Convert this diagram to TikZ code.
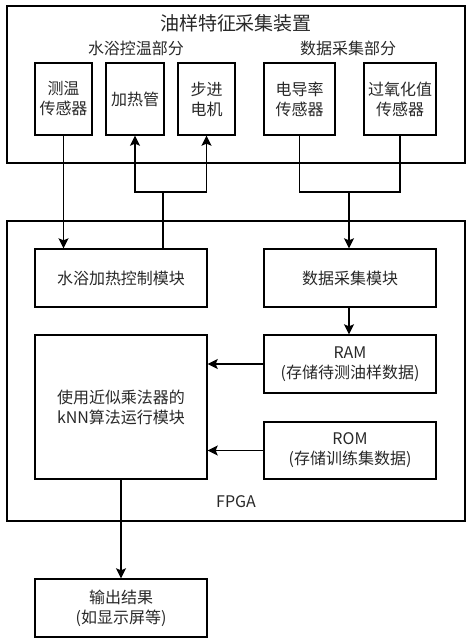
\documentclass[tikz,border=0pt]{standalone}
\usepackage{fontspec}
\setmainfont{Noto Sans CJK SC}
\usetikzlibrary{arrows.meta, positioning}
\definecolor{inkgray}{RGB}{40, 40, 40}

\tikzset{
  blk/.style={draw, line width=1.4pt, minimum width=172pt, minimum height=58pt,
    align=center, inner sep=2pt, font=\fontsize{16}{20}\selectfont, text=inkgray},
  sens/.style={blk, minimum width=57pt, minimum height=72pt},
  frame/.style={draw, line width=1.4pt},
  lbl/.style={font=\fontsize{16}{20}\selectfont, text=inkgray},
  flow/.style={line width=1.4pt, -{Stealth[length=10pt, width=10pt, inset=2pt]}},
  wire/.style={line width=1.4pt}
}

\begin{document}
\begin{tikzpicture}[x=1pt, y=-1pt]
  \useasboundingbox (0,0) rectangle (474,641);

  % oil sample acquisition device
  \node[frame, minimum width=458pt, minimum height=157pt] (dev) at (236,84.5) {};
  \node[lbl, font=\fontsize{19}{22}\selectfont] (devtitle) at (236,23) {油样特征采集装置};
  \node[lbl] (bathpart) at (136,48) {水浴控温部分};
  \node[lbl] (datapart) at (348,48) {数据采集部分};

  \node[sens] (tsens) at (63.5,99) {测温\\传感器};
  \node[sens, minimum width=58pt] (heater) at (135,99) {加热管};
  \node[sens] (motor) at (206.5,99) {步进\\电机};
  \node[sens, minimum width=71pt] (cond) at (299.5,99) {电导率\\传感器};
  \node[sens, minimum width=72pt] (perox) at (400,99) {过氧化值\\传感器};

  % FPGA
  \node[frame, minimum width=458pt, minimum height=300pt] (fpga) at (236,371) {};
  \node[lbl] (fpgalbl) at (236,502) {FPGA};

  \node[blk] (bath) at (121,278) {水浴加热控制模块};
  \node[blk] (acq) at (350,278) {数据采集模块};
  \node[blk] (ram) at (350,364) {RAM\\(存储待测油样数据)};
  \node[blk, minimum height=144pt] (knn) at (121,407) {使用近似乘法器的\\kNN算法运行模块};
  \node[blk, minimum height=57pt] (rom) at (350,450.5) {ROM\\(存储训练集数据)};

  \node[blk] (out) at (121,608) {输出结果\\(如显示屏等)};

  % connectors
  \coordinate (hj) at (163,192);
  \coordinate (dj) at (349,192);

  \draw[flow] (tsens) -- (tsens |- bath.north);
  \draw[wire] (bath.north -| hj) -- (hj);
  \draw[flow] (hj) -| (heater);
  \draw[flow] (hj) -| (motor);

  \draw[wire] (cond) |- (dj) -| (perox);
  \draw[flow] (dj) -- (dj |- acq.north);
  \draw[flow] (acq.south -| dj) -- (dj |- ram.north);

  \draw[flow] (ram.west) -- (knn.east |- ram.west);
  \draw[flow] (rom.west) -- (knn.east |- rom.west);
  \draw[flow] (knn) -- (out);
\end{tikzpicture}
\end{document}
